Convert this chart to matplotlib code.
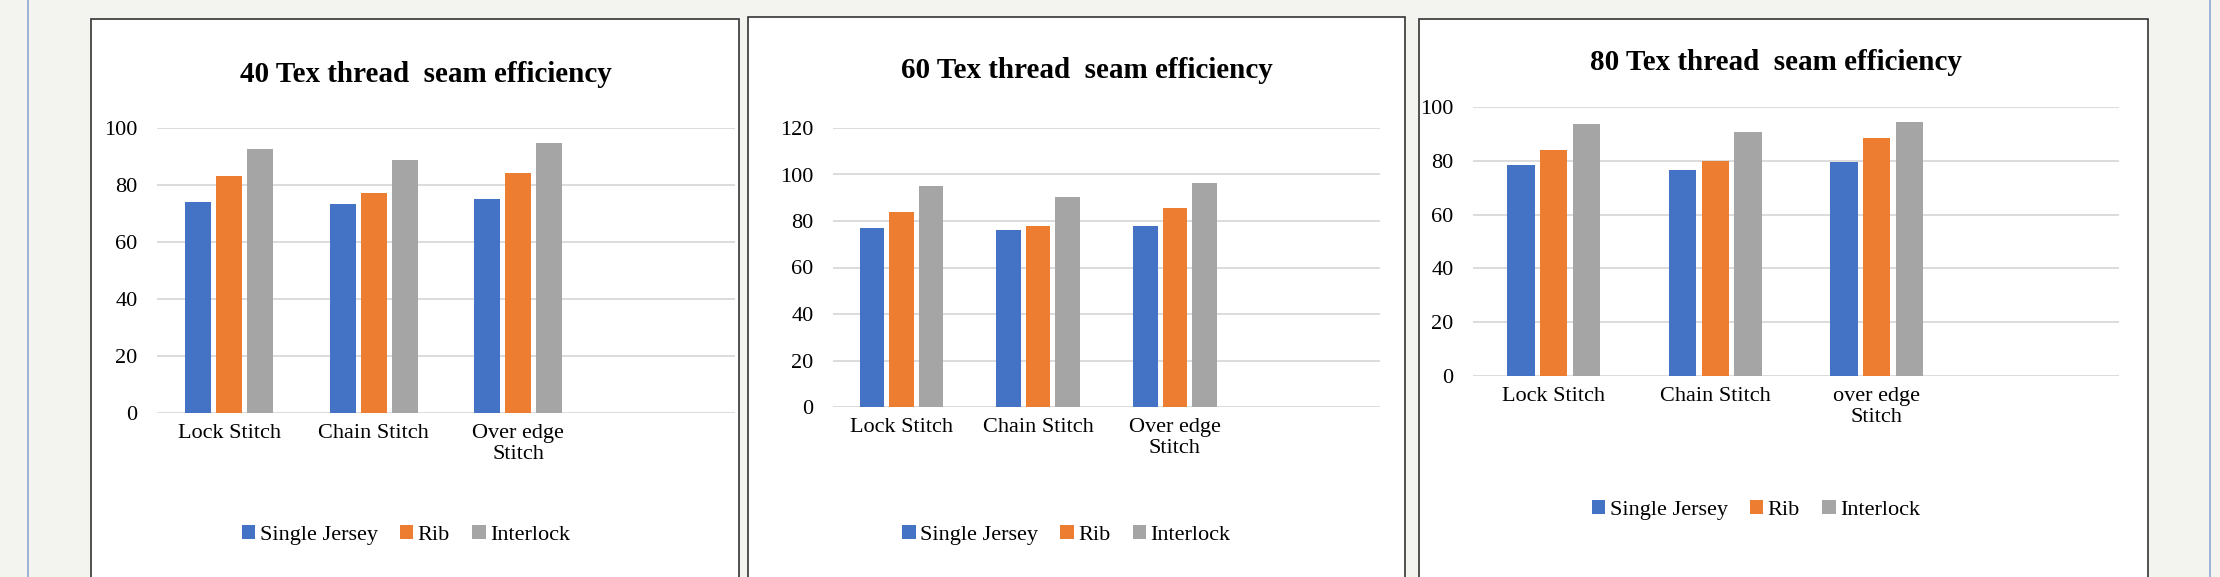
import numpy as np
from matplotlib import pyplot as plt
from matplotlib.patches import Rectangle
from matplotlib.lines import Line2D

series_names = ["Single Jersey", "Rib", "Interlock"]
series_colors = ["#4472c4", "#ed7d31", "#a5a5a5"]

cats_40 = ["Lock Stitch", "Chain Stitch", "Over edge\nStitch", ""]
cats_60 = ["Lock Stitch", "Chain Stitch", "Over edge\nStitch", ""]
cats_80 = ["Lock Stitch", "Chain Stitch", "over edge\nStitch", ""]

tex40_single = [74, 73.4, 75]
tex40_rib = [83, 77.3, 84.2]
tex40_interlock = [92.6, 88.8, 94.7]

tex60_single = [77, 76.1, 78]
tex60_rib = [83.9, 78, 85.7]
tex60_interlock = [95.2, 90.5, 96.2]

tex80_single = [78.5, 76.4, 79.5]
tex80_rib = [83.9, 80, 88.3]
tex80_interlock = [93.7, 90.6, 94.3]

W, H = 2220, 577
fig = plt.figure(figsize=(W / 100, H / 100), dpi=100)
fig.patch.set_facecolor("#f3f4ef")
plt.rcParams['font.family'] = ['Liberation Serif', 'DejaVu Serif']


def px(x0, y0, x1, y1):
    # pixel box (top-left origin) -> figure fraction rect
    return [x0 / W, 1 - y1 / H, (x1 - x0) / W, (y1 - y0) / H]


# side rules
for xx in (28, 2210):
    fig.add_artist(Line2D([xx / W, xx / W], [0, 1], color="#8fa6d6", lw=1.2, zorder=-2))

panels = [(91, 19, 739, 580), (748, 17, 1405, 580), (1419, 19, 2148, 580)]
for (x0, y0, x1, y1) in panels:
    r = px(x0, y0, x1, y1)
    fig.add_artist(Rectangle((r[0], r[1]), r[2], r[3], transform=fig.transFigure,
                             facecolor="white", edgecolor="#333333", lw=1.2, zorder=-1))


def draw(box, title, title_y, cats, vals, ymax, step, legend_y, bar_w):
    ax = fig.add_axes(px(*box))
    ax.set_zorder(5)
    ax.set_facecolor("none")
    x = np.arange(len(cats))
    offs = [-bar_w * 1.2, 0, bar_w * 1.2]
    for i, v in enumerate(vals):
        ax.bar(x[:len(v)] + offs[i], v, width=bar_w, color=series_colors[i],
               label=series_names[i], zorder=3)
    ax.set_xlim(-0.5, len(cats) - 0.5)
    ax.set_ylim(0, ymax)
    ax.set_yticks(np.arange(0, ymax + 1, step))
    ax.set_xticks(x)
    ax.set_xticklabels(cats, fontsize=16, linespacing=1.1)
    ax.tick_params(axis="y", labelsize=16, length=0, pad=14)
    ax.tick_params(axis="x", length=0, pad=8)
    ax.grid(axis="y", color="#d9d9d9", lw=1.3, zorder=0)
    for s in ax.spines.values():
        s.set_visible(False)
    cx = (box[0] + box[2]) / 2
    fig.text((cx - 20) / W, 1 - title_y / H, title, ha="center", va="center",
             fontsize=21, fontweight="bold", zorder=6)
    leg = fig.legend(*ax.get_legend_handles_labels(), loc="center",
                     bbox_to_anchor=((cx - 40) / W, 1 - legend_y / H), ncol=3,
                     frameon=False, fontsize=16, handlelength=0.6, handleheight=0.6,
                     handletextpad=0.2, columnspacing=1.0)
    leg.set_zorder(6)


draw((157, 128, 735, 413), "40 Tex thread  seam efficiency", 75, cats_40,
     [tex40_single, tex40_rib, tex40_interlock], 100, 20, 535, 0.18)
draw((833, 128, 1380, 407), "60 Tex thread  seam efficiency", 70, cats_60,
     [tex60_single, tex60_rib, tex60_interlock], 120, 20, 535, 0.18)
draw((1473, 107, 2119, 376), "80 Tex thread  seam efficiency", 62, cats_80,
     [tex80_single, tex80_rib, tex80_interlock], 100, 20, 510, 0.17)

plt.savefig("out.png", dpi=100, facecolor=fig.get_facecolor())
